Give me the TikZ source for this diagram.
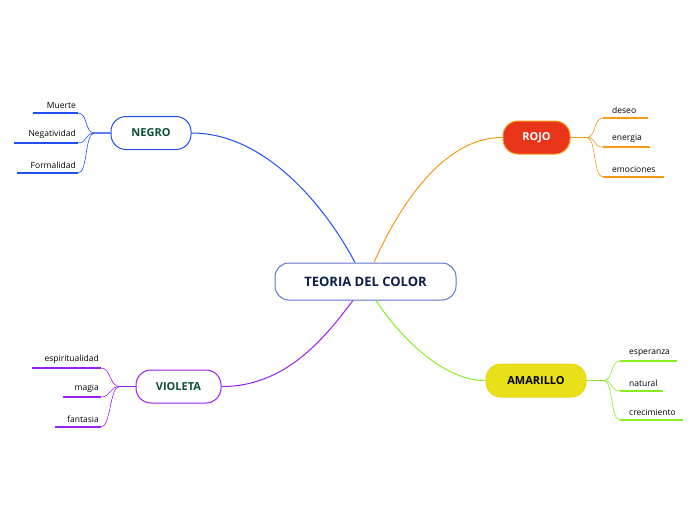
\documentclass[tikz,border=0pt]{standalone}
\usepackage{fontspec}
\setmainfont{Open Sans}
\definecolor{cblue}{HTML}{1F4FF5}
\definecolor{corange}{HTML}{F79A16}
\definecolor{cgreen}{HTML}{88EE22}
\definecolor{cpurple}{HTML}{9A1FF0}
\definecolor{cnavy}{HTML}{0D1F4A}
\definecolor{cdkgreen}{HTML}{0E4D3A}
\definecolor{cred}{HTML}{E83418}
\definecolor{cyellow}{HTML}{E8E018}
\begin{document}
\begin{tikzpicture}[x=1pt,y=-1pt,
  main/.style={draw=cblue!60!cnavy!70,line width=1pt,rounded corners=14pt,minimum width=181pt,minimum height=37pt,font=\fontsize{13}{15}\selectfont\bfseries,text=cnavy,fill=white},
  branch/.style={rounded corners=15pt,minimum height=33pt,line width=1pt,font=\fontsize{11}{13}\selectfont\bfseries},
  leafl/.style={anchor=south east,inner xsep=2pt,inner ysep=4pt,align=right,font=\fontsize{8.5}{10}\selectfont},
  leafr/.style={anchor=south west,inner xsep=9pt,inner ysep=4pt,align=left,font=\fontsize{8.5}{10}\selectfont},
  ul/.style={line width=2pt},
  con/.style={line width=1pt},
  sub/.style={line width=0.6pt}]
\useasboundingbox (0,0) rectangle (696,520);
\node[main] (c) at (365.5,281.5) {TEORIA DEL COLOR};
\node[branch,draw=cblue,fill=white,text=cdkgreen,minimum width=80pt] (n) at (151,133) {NEGRO};
\node[branch,draw=corange,fill=cred,text=white,minimum width=67pt] (r) at (536.5,137.5) {ROJO};
\node[branch,draw=cyellow!90!orange,fill=cyellow,text=black,minimum width=100pt] (a) at (536,380.5) {AMARILLO};
\node[branch,draw=cpurple,fill=white,text=cdkgreen,minimum width=85pt] (v) at (178.5,386.5) {VIOLETA};
% main connectors
\draw[con,cblue] (n.east) .. controls (270,133) and (330,215) .. (c.north -| 355,0);
\draw[con,corange] (r.west) .. controls (440,137) and (395,215) .. (c.north -| 374,0);
\draw[con,cgreen] (a.west) .. controls (440,381) and (395,330) .. (c.south -| 376,0);
\draw[con,cpurple] (v.east) .. controls (290,387) and (330,330) .. (c.south -| 353,0);
% NEGRO leaves
\node[leafl,text width=41pt] (n1) at (78,113) {Muerte};
\node[leafl,text width=60pt] (n2) at (78,143) {Negatividad};
\node[leafl,text width=57pt] (n3) at (78,173) {Formalidad};
\foreach \l in {n1,n2,n3}{
  \draw[ul,cblue] (\l.south west) -- (\l.south east);
  \draw[sub,cblue] (n.west) -- ++(-16,0) .. controls +(-10,0) and +(10,0) .. (\l.south east);}
% ROJO leaves
\node[leafr,text width=27pt] (r1) at (603,118) {deseo};
\node[leafr,text width=29pt] (r2) at (603,147) {energia};
\node[leafr,text width=43pt] (r3) at (603,177) {emociones};
\foreach \l in {r1,r2,r3}{
  \draw[ul,corange] (\l.south west) -- (\l.south east);
  \draw[sub,corange] (r.east) -- ++(16,0) .. controls +(10,0) and +(-10,0) .. (\l.south west);}
% AMARILLO leaves
\node[leafr,text width=39pt] (a1) at (620,361) {esperanza};
\node[leafr,text width=25pt] (a2) at (620,391) {natural};
\node[leafr,text width=45pt] (a3) at (620,420) {crecimiento};
\foreach \l in {a1,a2,a3}{
  \draw[ul,cgreen] (\l.south west) -- (\l.south east);
  \draw[sub,cgreen] (a.east) -- ++(17,0) .. controls +(10,0) and +(-10,0) .. (\l.south west);}
% VIOLETA leaves
\node[leafl,text width=65pt] (v1) at (101,368) {espiritualidad};
\node[leafl,text width=34pt] (v2) at (101,397) {magia};
\node[leafl,text width=42pt] (v3) at (101,427) {fantasia};
\foreach \l in {v1,v2,v3}{
  \draw[ul,cpurple] (\l.south west) -- (\l.south east);
  \draw[sub,cpurple] (v.west) -- ++(-16,0) .. controls +(-10,0) and +(10,0) .. (\l.south east);}
\end{tikzpicture}
\end{document}
